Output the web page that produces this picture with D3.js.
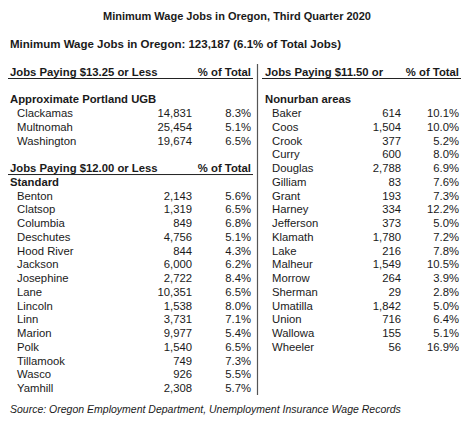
<!DOCTYPE html><html><head><meta charset="utf-8"><script src="https://cdn.jsdelivr.net/npm/d3@7"></script>
<style>body{margin:0;background:#fff}text{font-family:"Liberation Sans",Arial,sans-serif;fill:#1a1a1a;font-size:11.3px}</style></head><body><svg id="c" width="474" height="433"></svg>
<script>
const title="Minimum Wage Jobs in Oregon, Third Quarter 2020";
const subtitle="Minimum Wage Jobs in Oregon: 123,187 (6.1% of Total Jobs)";
const source="Source: Oregon Employment Department, Unemployment Insurance Wage Records";
const portlandCounties=["Clackamas","Multnomah","Washington"];
const portlandJobs=[14831,25454,19674];
const portlandPct=[8.3,5.1,6.5];
const standardCounties=["Benton","Clatsop","Columbia","Deschutes","Hood River","Jackson","Josephine","Lane","Lincoln","Linn","Marion","Polk","Tillamook","Wasco","Yamhill"];
const standardJobs=[2143,1319,849,4756,844,6000,2722,10351,1538,3731,9977,1540,749,926,2308];
const standardPct=[5.6,6.5,6.8,5.1,4.3,6.2,8.4,6.5,8.0,7.1,5.4,6.5,7.3,5.5,5.7];
const nonurbanCounties=["Baker","Coos","Crook","Curry","Douglas","Gilliam","Grant","Harney","Jefferson","Klamath","Lake","Malheur","Morrow","Sherman","Umatilla","Union","Wallowa","Wheeler"];
const nonurbanJobs=[614,1504,377,600,2788,83,193,334,373,1780,216,1549,264,29,1842,716,155,56];
const nonurbanPct=[10.1,10.0,5.2,8.0,6.9,7.6,7.3,12.2,5.0,7.2,7.8,10.5,3.9,2.8,5.0,6.4,5.1,16.9];

const svg=d3.select("#c");
// row index -> baseline y
const y=d3.scaleLinear().domain([0,1]).range([117,130.76]);
const fmt=d3.format(",");const pf=v=>v.toFixed(1)+"%";
function t(x,yy,s,o={}){const e=svg.append("text").attr("x",x).attr("y",yy).text(s);
 if(o.b)e.style("font-weight","bold");if(o.a)e.attr("text-anchor",o.a);if(o.i)e.style("font-style","italic");if(o.fs)e.style("font-size",o.fs);return e;}
t(237,20,title,{b:1,a:"middle",fs:"11px"});
t(10,48,subtitle,{b:1,fs:"11.5px"});
// headers
t(10,76,"Jobs Paying $13.25 or Less",{b:1});t(251,76,"% of Total",{b:1,a:"end"});
t(265,76,"Jobs Paying $11.50 or",{b:1});t(459,76,"% of Total",{b:1,a:"end"});
svg.append("line").attr("x1",8).attr("x2",253).attr("y1",78.5).attr("y2",78.5).attr("stroke","#222");
svg.append("line").attr("x1",262).attr("x2",461).attr("y1",78.5).attr("y2",78.5).attr("stroke","#222");
svg.append("line").attr("x1",257.5).attr("x2",257.5).attr("y1",64).attr("y2",395).attr("stroke","#555").attr("stroke-width",1.2);
t(10,y(-1),"Approximate Portland UGB",{b:1});
t(265,y(-1),"Nonurban areas",{b:1});
function rows(names,jobs,pct,start,xn,xj,xp){
 names.forEach((n,i)=>{const yy=y(start+i);t(xn,yy,n);t(xj,yy,fmt(jobs[i]),{a:"end"});t(xp,yy,pf(pct[i]),{a:"end"});});}
rows(portlandCounties,portlandJobs,portlandPct,0,17,192,251);
t(10,y(4),"Jobs Paying $12.00 or Less",{b:1});t(251,y(4),"% of Total",{b:1,a:"end"});
svg.append("line").attr("x1",8).attr("x2",253).attr("y1",y(4)+2.5).attr("y2",y(4)+2.5).attr("stroke","#222");
t(10,y(5),"Standard",{b:1});
rows(standardCounties,standardJobs,standardPct,6,17,192,251);
rows(nonurbanCounties,nonurbanJobs,nonurbanPct,0,272,401,459);
t(10,413,source,{i:1,fs:"10.5px"});
</script></body></html>
